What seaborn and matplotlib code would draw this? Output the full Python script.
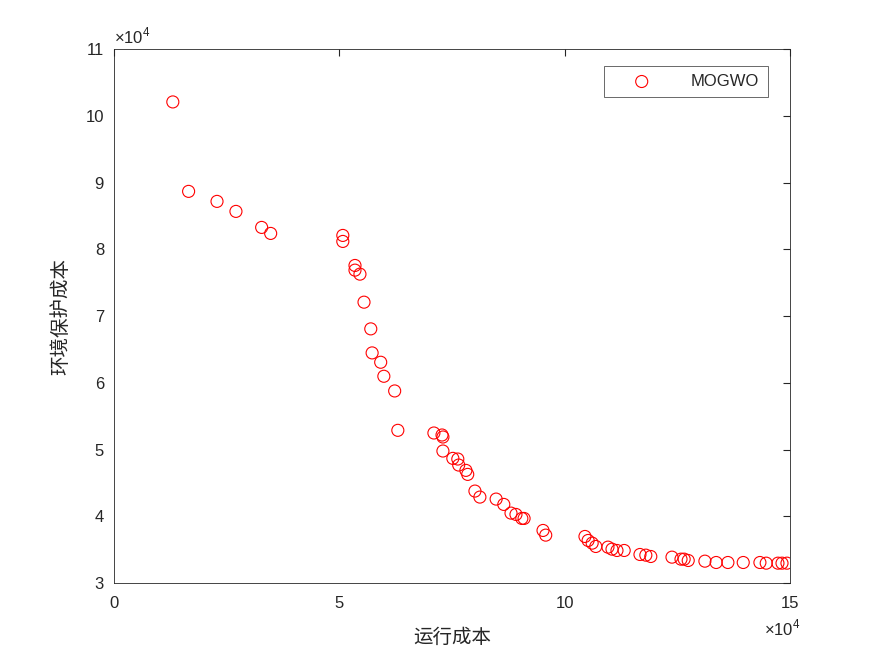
import matplotlib
matplotlib.use("Agg")
import matplotlib.pyplot as plt
import seaborn as sns
import pandas as pd

run_cost = [1.31,1.66,2.29,2.71,3.28,3.48,5.08,5.08,5.35,5.35,5.46,5.55,5.70,5.73,5.92,5.99,6.23,6.30,
            7.10,7.28,7.30,7.30,7.52,7.63,7.65,7.81,7.85,8.01,8.12,8.48,8.65,8.81,8.92,9.05,9.10,9.52,9.58,
            10.45,10.52,10.61,10.69,10.96,11.05,11.16,11.32,11.67,11.80,11.91,12.38,12.58,12.65,12.74,
            13.11,13.36,13.62,13.96,14.33,14.47,14.73,14.82,14.93]
env_cost = [10.21,8.87,8.72,8.57,8.33,8.24,8.21,8.12,7.76,7.69,7.63,7.21,6.81,6.45,6.31,6.10,5.88,5.29,
            5.25,5.22,5.19,4.98,4.87,4.86,4.77,4.69,4.63,4.38,4.29,4.26,4.18,4.05,4.03,3.97,3.97,3.79,3.72,
            3.70,3.64,3.60,3.55,3.54,3.51,3.49,3.49,3.43,3.42,3.40,3.39,3.36,3.36,3.34,
            3.33,3.31,3.31,3.31,3.31,3.30,3.30,3.30,3.30]
df = pd.DataFrame({"x": run_cost, "y": env_cost})

sns.set_style("white")
plt.rcParams['font.family'] = ['Liberation Sans', 'Noto Sans CJK SC', 'DejaVu Sans']
plt.rcParams['mathtext.fontset'] = 'custom'
plt.rcParams['mathtext.rm'] = 'Liberation Sans'
fig = plt.figure(figsize=(8.75, 6.56), dpi=100)
ax = fig.add_axes([0.130, 0.111, 0.773, 0.814])
sns.scatterplot(data=df, x="x", y="y", ax=ax, marker="o", s=75, facecolors="none",
                edgecolor="#ff0000", linewidth=0.8, label="MOGWO")
ax.set_xlim(0, 15); ax.set_ylim(3, 11)
ax.set_xticks([0, 5, 10, 15]); ax.set_yticks(range(3, 12))
ax.tick_params(direction="in", length=5, labelsize=12, colors="#262626", top=True, right=True)
ax.tick_params(axis="x", pad=9)
ax.tick_params(axis="y", pad=7)
for s in ax.spines.values():
    s.set_color("#262626"); s.set_linewidth(0.6)
ax.set_xlabel("运行成本", fontsize=14, color="#262626", family=['Noto Sans CJK SC'], labelpad=12)
ax.set_ylabel("环境保护成本", fontsize=14, color="#262626", family=['Noto Sans CJK SC'], labelpad=10)
ax.text(0, 1.005, "×10$^4$", transform=ax.transAxes, fontsize=12, va="bottom", color="#262626")
ax.text(1.015, -0.065, "×10$^4$", transform=ax.transAxes, fontsize=12, va="top", ha="right", color="#262626")
leg = ax.legend(loc="upper right", fontsize=12, frameon=True, fancybox=False, borderpad=0.5,
                handlelength=3.5, handletextpad=1.2, bbox_to_anchor=(0.979, 0.985))
leg.get_frame().set_edgecolor("#262626"); leg.get_frame().set_linewidth(0.6)
fig.savefig("out.png", dpi=100)
